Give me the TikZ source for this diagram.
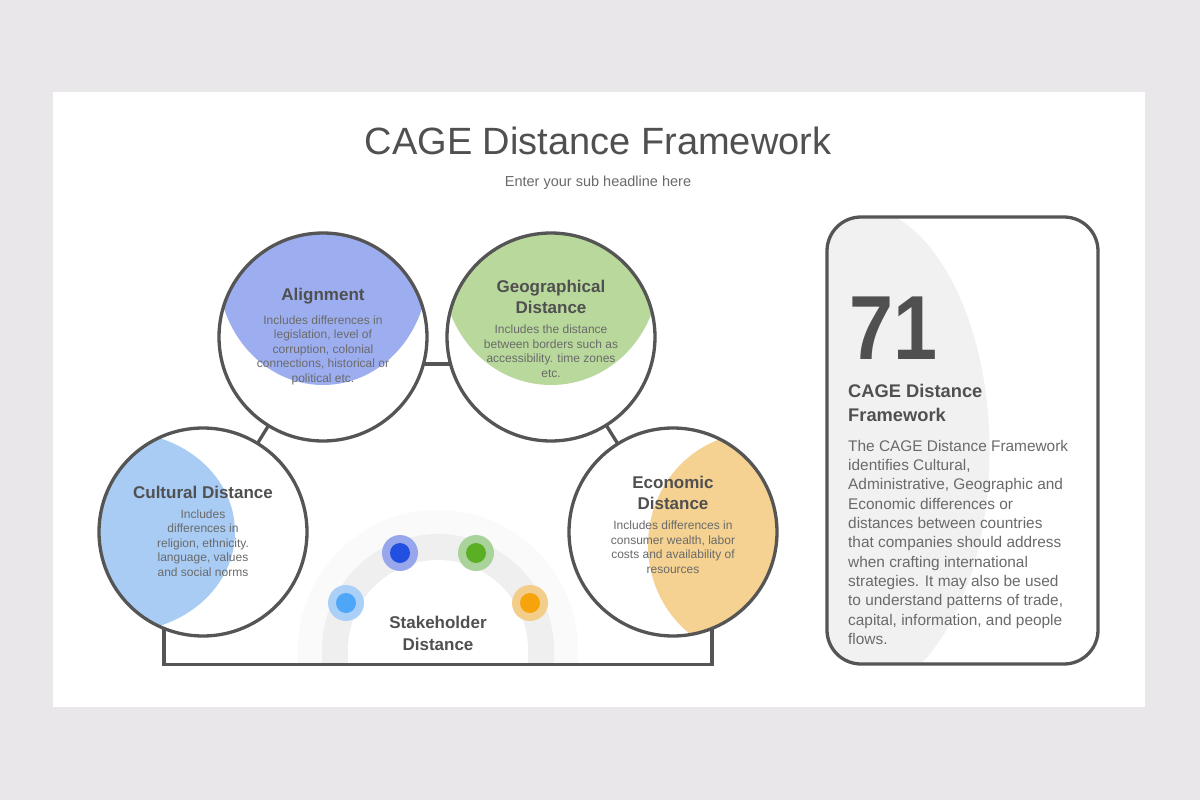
\documentclass[tikz,border=0pt]{standalone}
\usepackage{fontspec}
\setmainfont{Liberation Sans}
\usetikzlibrary{positioning}

\definecolor{pageBg}{HTML}{E9E7E9}
\definecolor{lineGray}{HTML}{555555}
\definecolor{headGray}{HTML}{505050}
\definecolor{bodyGray}{HTML}{6A6A6A}
\definecolor{alignBlue}{HTML}{9DAEF0}
\definecolor{geoGreen}{HTML}{B9D99C}
\definecolor{cultBlue}{HTML}{A9CCF5}
\definecolor{econOrange}{HTML}{F5D291}
\definecolor{cardGray}{HTML}{F1F1F1}
\definecolor{bandGray}{HTML}{EFEFEF}
\definecolor{faintGray}{HTML}{FAFAFA}
\definecolor{dotLB}{HTML}{4DA6F7}
\definecolor{haloLB}{HTML}{AAD0F8}
\definecolor{dotDB}{HTML}{2150E0}
\definecolor{haloDB}{HTML}{98A7EC}
\definecolor{dotGR}{HTML}{5BAF24}
\definecolor{haloGR}{HTML}{AAD39B}
\definecolor{dotOR}{HTML}{F7A30C}
\definecolor{haloOR}{HTML}{F3CE8A}

\begin{document}
\begin{tikzpicture}[
      x=1pt, y=-1pt,
      ring/.style={
        circle,
        draw=lineGray,
        line width=3.3pt,
        fill=white,
        minimum size=208pt,
        inner sep=0pt,
        outer sep=0pt
      },
      link/.style={draw=lineGray, line width=3.3pt},
      head/.style={font=\fontsize{17}{21}\selectfont\bfseries, text=headGray, align=center, inner sep=0pt},
      body/.style={font=\fontsize{12}{14.5}\selectfont, text=bodyGray, align=center, inner sep=0pt},
      cardtext/.style={text=bodyGray, align=left, anchor=north west, inner sep=0pt},
      halo/.style={circle, inner sep=0pt, minimum size=36pt},
      dot/.style={circle, inner sep=0pt, minimum size=20pt},
      node distance=11pt
    ]
    \useasboundingbox (0,0) rectangle (1200,800);
    \fill[pageBg] (0,0) rectangle (1200,800);
    \fill[white] (53,92) rectangle (1145,707);

    \node[font=\fontsize{38}{44}\selectfont, text=headGray]
      (Title) at (598,141) {CAGE Distance Framework};
    \node[font=\fontsize{14.5}{17}\selectfont, text=bodyGray]
      (Subtitle) at (598,183) {Enter your sub headline here};

    % stakeholder arch
    \fill[faintGray] (298,665) -- (298,650) arc[start angle=180, end angle=0, radius=140pt] -- (578,665) -- cycle;
    \fill[bandGray] (322,665) -- (322,650) arc[start angle=180, end angle=0, radius=116pt] -- (554,665) -- cycle;
    \fill[white] (348,665) -- (348,650) arc[start angle=180, end angle=0, radius=90pt] -- (528,665) -- cycle;

    \node[halo, fill=haloLB] (HaloC) at (346,603) {};
    \node[dot, fill=dotLB] (DotC) at (HaloC) {};
    \node[halo, fill=haloDB] (HaloA) at (400,553) {};
    \node[dot, fill=dotDB] (DotA) at (HaloA) {};
    \node[halo, fill=haloGR] (HaloG) at (476,553) {};
    \node[dot, fill=dotGR] (DotG) at (HaloG) {};
    \node[halo, fill=haloOR] (HaloE) at (530,603) {};
    \node[dot, fill=dotOR] (DotE) at (HaloE) {};

    \node[head, font=\fontsize{17}{22}\selectfont\bfseries]
      (Stakeholder) at (438,633) {Stakeholder\\Distance};

    % the four circles
    \node[ring, path picture={
        \fill[alignBlue] ([yshift=67pt]path picture bounding box.center) ellipse (105pt and 115pt);}]
      (Alignment) at (323,337) {};
    \node[ring, path picture={
        \fill[geoGreen] ([yshift=65pt]path picture bounding box.center) ellipse (108pt and 113pt);}]
      (Geographical) at (551,337) {};
    \node[ring, path picture={
        \fill[cultBlue] ([xshift=-83pt]path picture bounding box.center) ellipse (115pt and 100pt);}]
      (Cultural) at (203,532) {};
    \node[ring, path picture={
        \fill[econOrange] ([xshift=82pt,yshift=-13pt]path picture bounding box.center) ellipse (107pt and 112pt);}]
      (Economic) at (673,532) {};

    \draw[link] (Alignment.-15.5) -- (Geographical.195.5);
    \draw[link] (Cultural) -- (Alignment);
    \draw[link] (Economic) -- (Geographical);
    \draw[link] (Cultural.248) -- ++(0,36) -| (Economic.292);

    \node[head] (AlignmentT) at ([yshift=41pt]Alignment.center) {Alignment};
    \node[body, below=of AlignmentT]
      (AlignmentB)
      {Includes differences in\\legislation, level of\\corruption, colonial\\connections, historical or\\political etc.};

    \node[head] (GeographicalT) at ([yshift=40pt]Geographical.center) {Geographical\\Distance};
    \node[body, below=of GeographicalT]
      (GeographicalB)
      {Includes the distance\\between borders such as\\accessibility. time zones\\etc.};

    \node[head] (CulturalT) at ([yshift=40pt]Cultural.center) {Cultural Distance};
    \node[body, below=of CulturalT]
      (CulturalB)
      {Includes\\differences in\\religion, ethnicity.\\language, values\\and social norms};

    \node[head] (EconomicT) at ([yshift=39pt]Economic.center) {Economic\\Distance};
    \node[body, below=of EconomicT]
      (EconomicB)
      {Includes differences in\\consumer wealth, labor\\costs and availability of\\resources};

    % summary card
    \node[draw=lineGray, line width=3.3pt, rounded corners=34pt,
        minimum width=271pt, minimum height=447pt, inner sep=0pt,
        path picture={
        \fill[cardGray] ([xshift=-108pt,yshift=-10pt]path picture bounding box.center) ellipse (135pt and 245pt);}]
      (Card) at (962.5,440.5) {};

    \node[cardtext, font=\fontsize{91}{91}\selectfont\bfseries, text=headGray]
      (Number) at (849,297) {\scalebox{0.87}[1]{71}};
    \node[cardtext, font=\fontsize{18.3}{24}\selectfont\bfseries, text=headGray]
      (CardT) at (848,384) {CAGE Distance\\Framework};
    \node[cardtext, font=\fontsize{15.4}{19.3}\selectfont]
      (CardB) at (848,440)
      {The CAGE Distance Framework\\identifies Cultural,\\Administrative, Geographic and\\Economic differences or\\distances between countries\\that companies should address\\when crafting international\\strategies. It may also be used\\to understand patterns of trade,\\capital, information, and people\\flows.};
  \end{tikzpicture}
\end{document}
